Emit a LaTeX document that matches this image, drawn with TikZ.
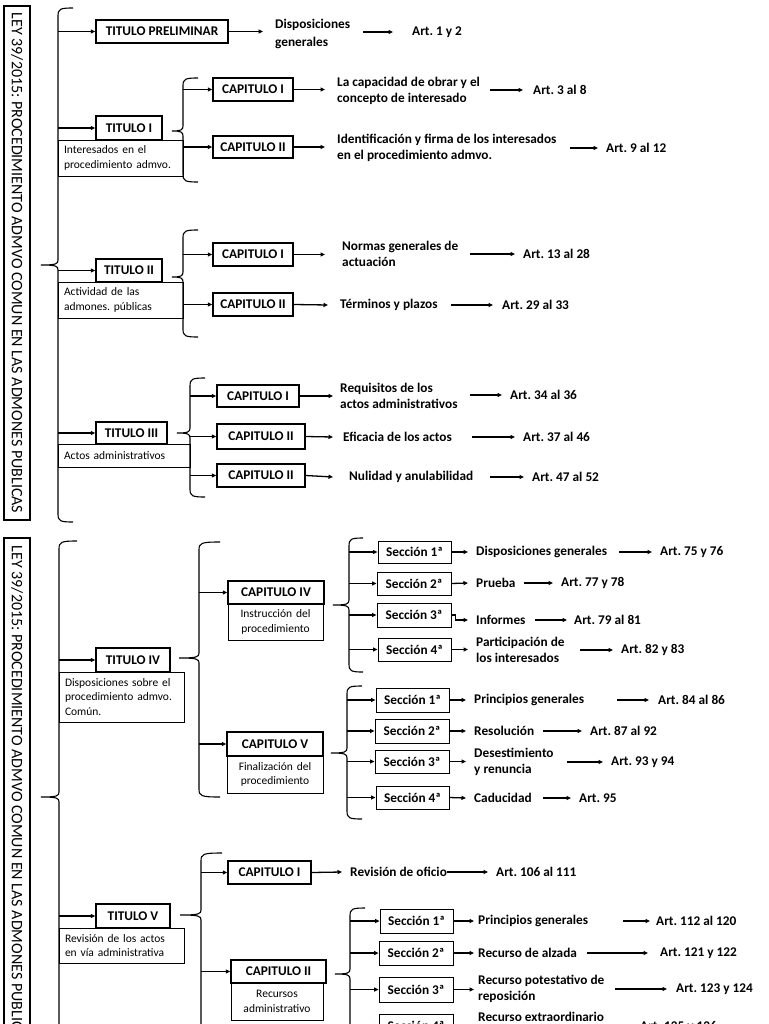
\documentclass[tikz,border=0pt]{standalone}
\usepackage{fontspec}
\setmainfont{Carlito}
\usetikzlibrary{arrows.meta}
\frenchspacing
\newcommand{\bx}[7]{%
  \pgfmathsetlengthmacro{\bxw}{(#5-#3)*1pt}%
  \pgfmathsetlengthmacro{\bxh}{(#6-#4)*1pt}%
  \node[#1, minimum width=\bxw, minimum height=\bxh] (#2) at ({(#3+#5)/2},{(#4+#6)/2}) {#7};}
\newcommand{\dbx}[7]{%
  \pgfmathsetlengthmacro{\bxw}{(#4-#2-12)*1pt}%
  \pgfmathsetlengthmacro{\bxh}{(#5-#3)*1pt}%
  \node[dbox, align=#6, text width=\bxw, minimum height=\bxh] (#1) at ({(#2+#4)/2},{(#3+#5)/2}) {#7};}
\newcommand{\brc}[6]{%
  \draw[brace] ({#1+#5},#2) .. controls ({#1+2},#2) and (#1,{#2+1}) .. (#1,{#2+8})
    -- (#1,{#3-5}) .. controls (#1,{#3-1}) and ({#1-2},#3) .. ({#1-#6},#3)
    .. controls ({#1-2},#3) and (#1,{#3+1}) .. (#1,{#3+5})
    -- (#1,{#4-8}) .. controls (#1,{#4-1}) and ({#1+2},#4) .. ({#1+#5},#4);}
\newcommand{\ar}[3]{\draw[arr] ([xshift=-#2pt]#1.west) -- ([xshift=-#3pt]#1.west);}
\begin{document}
\begin{tikzpicture}[x=1pt,y=-1pt,
  tbox/.style={draw, line width=1.5pt, inner sep=0pt, font=\fontsize{13.3}{16}\selectfont\bfseries},
  dbox/.style={draw, line width=0.6pt, inner xsep=6pt, inner ysep=0pt, font=\fontsize{11.5}{14.5}\selectfont},
  sbox/.style={draw, line width=0.8pt, inner sep=0pt, font=\fontsize{13.3}{16}\selectfont\bfseries},
  lbl/.style={anchor=west, align=left, inner sep=0pt, font=\fontsize{13.3}{16.5}\selectfont\bfseries},
  arr/.style={-{Triangle[length=4.5pt,width=4pt]}, line width=1.3pt},
  brace/.style={line width=1.1pt},
  lbox/.style={draw, line width=2pt, inner sep=0pt, font=\fontsize{16}{18}\selectfont}]
\useasboundingbox (0,0) rectangle (768,1024);
\fill[white] (0,0) rectangle (768,1024);
\clip (0,0) rectangle (768,1024);

% ===== Frame 1 =====
\node[lbox, rotate=-90, minimum width=514pt, minimum height=26pt] (L1) at (17,263) {LEY 39/2015: PROCEDIMIENTO ADMVO COMUN EN LAS ADMONES PUBLICAS};
\brc{58}{8}{265}{522}{15}{17}
\coordinate (B1) at (58,0);

% Titulo preliminar
\bx{tbox}{t0}{96}{20}{228}{43}{TITULO PRELIMINAR}
\draw[arr] (B1 |- t0.west) -- (t0.west);
\node[lbl, font=\fontsize{13.3}{18}\selectfont\bfseries] (l0) at (275,34) {Disposiciones\\generales};
\draw[arr] (t0.east) -- ([xshift=-12pt]l0.west |- t0.east);
\node[lbl] (a0) at (412,32) {Art. 1 y 2};
\ar{a0}{49}{19}

% Titulo I
\bx{tbox}{t1}{96}{116}{162}{140}{TITULO I}
\dbx{d1}{58}{140}{183}{176}{left}{Interesados en el\\procedimiento admvo.}
\draw[arr] (B1 |- t1.west) -- (t1.west);
\brc{183}{78}{131}{182}{15}{11}
\coordinate (C1) at (183,0);
\bx{tbox}{c11}{213}{78}{293}{101}{CAPITULO I}
\bx{tbox}{c12}{213}{136}{293}{158}{CAPITULO II}
\draw[arr] (C1 |- c11.west) -- (c11.west);
\draw[arr] (C1 |- c12.west) -- (c12.west);
\node[lbl] (l11) at (337,91) {La capacidad de obrar y el\\concepto de interesado};
\draw[arr] (c11.east) -- ([xshift=-12pt]l11.west |- c11.east);
\node[lbl] (a11) at (533,90) {Art. 3 al 8};
\ar{a11}{43}{10}
\node[lbl] (l12) at (337,148) {Identificación y firma de los interesados\\en el procedimiento admvo.};
\draw[arr] (c12.east) -- ([xshift=-12pt]l12.west |- c12.east);
\node[lbl] (a12) at (606,148) {Art. 9 al 12};
\ar{a12}{36}{8}

% Titulo II
\bx{tbox}{t2}{96}{259}{162}{282}{TITULO II}
\dbx{d2}{58}{282}{183}{318}{left}{Actividad de las\\admones. públicas}
\draw[arr] (B1 |- t2.west) -- (t2.west);
\brc{183}{230}{277}{337}{15}{11}
\coordinate (C2) at (183,0);
\bx{tbox}{c21}{213}{243}{293}{266}{CAPITULO I}
\bx{tbox}{c22}{213}{293}{293}{316}{CAPITULO II}
\draw[arr] (C2 |- c21.west) -- (c21.west);
\draw[arr] (C2 |- c22.west) -- (c22.west);
\node[lbl] (l21) at (342,254) {Normas generales de\\actuación};
\draw[arr] (c21.east) -- ([xshift=-17pt]l21.west |- c21.east);
\node[lbl] (a21) at (523,254) {Art. 13 al 28};
\ar{a21}{53}{8}
\node[lbl] (l22) at (340,305) {Términos y plazos};
\draw[arr] (c22.east) -- ([xshift=-12pt]l22.west);
\node[lbl] (a22) at (502,305) {Art. 29 al 33};
\ar{a22}{51}{9}

% Titulo III
\bx{tbox}{t3}{96}{422}{167}{444}{TITULO III}
\dbx{d3}{58}{444}{190}{467}{left}{Actos administrativos}
\draw[arr] (B1 |- t3.west) -- (t3.west);
\brc{190}{378}{433}{497}{15}{13}
\coordinate (C3) at (190,0);
\bx{tbox}{c31}{217}{385}{299}{407}{CAPITULO I}
\bx{tbox}{c32}{217}{424}{305}{449}{CAPITULO II}
\bx{tbox}{c33}{217}{464}{305}{487}{CAPITULO II}
\draw[arr] (C3 |- c31.west) -- (c31.west);
\draw[arr] (C3 |- c32.west) -- (c32.west);
\draw[arr] (C3 |- c33.west) -- (c33.west);
\node[lbl] (l31) at (340,396) {Requisitos de los\\actos administrativos};
\draw[arr] (c31.east) -- ([xshift=-7pt]l31.west |- c31.east);
\node[lbl] (a31) at (510,395) {Art. 34 al 36};
\ar{a31}{40}{8}
\node[lbl] (l32) at (343,437) {Eficacia de los actos};
\draw[arr] (c32.east) -- ([xshift=-10pt]l32.west);
\node[lbl] (a32) at (523,437) {Art. 37 al 46};
\ar{a32}{51}{8}
\node[lbl] (l33) at (349,477) {Nulidad y anulabilidad};
\draw[arr] (c33.east) -- ([xshift=-16pt]l33.west);
\node[lbl] (a33) at (532,477) {Art. 47 al 52};
\ar{a33}{42}{8}

% ===== Frame 2 =====
\node[lbox, rotate=-90, minimum width=517pt, minimum height=26pt] (L2) at (17,796) {LEY 39/2015: PROCEDIMIENTO ADMVO COMUN EN LAS ADMONES PUBLICAS};
\brc{59}{541}{797}{1090}{18}{18}
\coordinate (B2) at (59,0);

% Titulo IV
\bx{tbox}{t4}{96}{648}{170}{672}{TITULO IV}
\dbx{d4}{59}{672}{184}{722}{left}{Disposiciones sobre el\\procedimiento admvo.\\Común.}
\draw[arr] (B2 |- t4.west) -- (t4.west);
\brc{199}{542}{658}{797}{21}{20}
\coordinate (C4) at (199,0);
\bx{tbox}{c4}{228}{581}{324}{604}{CAPITULO IV}
\dbx{e4}{228}{604}{323}{640}{center}{Instrucción del\\procedimiento}
\bx{tbox}{c5}{227}{732}{323}{756}{CAPITULO V}
\dbx{e5}{227}{756}{323}{793}{center}{Finalización del\\procedimiento}
\draw[arr] (C4 |- c4.west) -- (c4.west);
\draw[arr] (C4 |- c5.west) -- (c5.west);

% Secciones cap IV
\brc{349}{538}{605}{672}{14}{16}
\coordinate (S4) at (349,0);
\bx{sbox}{s41}{378}{541}{451}{563}{Sección 1ª}
\bx{sbox}{s42}{377}{572}{451}{595}{Sección 2ª}
\bx{sbox}{s43}{377}{603}{451}{627}{Sección 3ª}
\bx{sbox}{s44}{378}{638}{451}{661}{Sección 4ª}
\foreach \s in {s41,s42,s43,s44} \draw[arr] (S4 |- \s.west) -- (\s.west);
\node[lbl] (l41) at (476,552) {Disposiciones generales};
\draw[arr] (s41.east) -- ([xshift=-8pt]l41.west);
\node[lbl] (a41) at (660,552) {Art. 75 y 76};
\ar{a41}{41}{8}
\node[lbl] (l42) at (476,583) {Prueba};
\draw[arr] (s42.east) -- ([xshift=-8pt]l42.west);
\node[lbl] (a42) at (561,583) {Art. 77 y 78};
\ar{a42}{37}{8}
\node[lbl] (l43) at (476,620) {Informes};
\draw[arr] (s43.east) -- ++(4,0) |- ([xshift=-8pt]l43.west);
\node[lbl] (a43) at (574,620) {Art. 79 al 81};
\ar{a43}{39}{7}
\node[lbl] (l44) at (476,650) {Participación de\\los interesados};
\draw[arr] (s44.east) -- ([xshift=-8pt]l44.west |- s44.east);
\node[lbl] (a44) at (621,650) {Art. 82 y 83};
\ar{a44}{41}{8}

% Secciones cap V
\brc{347}{686}{753}{819}{15}{16}
\coordinate (S5) at (347,0);
\bx{sbox}{s51}{376}{688}{449}{712}{Sección 1ª}
\bx{sbox}{s52}{375}{719}{449}{743}{Sección 2ª}
\bx{sbox}{s53}{375}{750}{449}{773}{Sección 3ª}
\bx{sbox}{s54}{376}{786}{449}{809}{Sección 4ª}
\foreach \s in {s51,s52,s53,s54} \draw[arr] (S5 |- \s.west) -- (\s.west);
\node[lbl] (l51) at (474,700) {Principios generales};
\draw[arr] (s51.east) -- ([xshift=-8pt]l51.west);
\node[lbl] (a51) at (658,700) {Art. 84 al 86};
\ar{a51}{41}{9}
\node[lbl] (l52) at (474,731) {Resolución};
\draw[arr] (s52.east) -- ([xshift=-8pt]l52.west);
\node[lbl] (a52) at (590,731) {Art. 87 al 92};
\ar{a52}{47}{8}
\node[lbl] (l53) at (474,762) {Desestimiento\\y renuncia};
\draw[arr] (s53.east) -- ([xshift=-8pt]l53.west |- s53.east);
\node[lbl] (a53) at (611,762) {Art. 93 y 94};
\ar{a53}{44}{8}
\node[lbl] (l54) at (474,798) {Caducidad};
\draw[arr] (s54.east) -- ([xshift=-8pt]l54.west);
\node[lbl] (a54) at (579,798) {Art. 95};
\ar{a54}{36}{8}

% Titulo V
\bx{tbox}{t5}{96}{904}{170}{928}{TITULO V}
\dbx{d5}{59}{928}{184}{963}{left}{Revisión de los actos\\en vía administrativa}
\draw[arr] (B2 |- t5.west) -- (t5.west);
\brc{201}{853}{915}{1100}{21}{21}
\coordinate (C5) at (201,0);
\bx{tbox}{v1}{228}{861}{311}{884}{CAPITULO I}
\bx{tbox}{v2}{231}{960}{326}{983}{CAPITULO II}
\dbx{ev2}{231}{983}{323}{1020}{center}{Recursos\\administrativo}
\draw[arr] (C5 |- v1.west) -- (v1.west);
\draw[arr] (C5 |- v2.west) -- (v2.west);
\node[lbl] (lv1) at (350,872) {Revisión de oficio};
\draw[arr] (v1.east) -- ([xshift=-8pt]lv1.west);
\node[lbl] (av1) at (496,872) {Art. 106 al 111};
\ar{av1}{49}{8}

% Secciones cap II (Titulo V)
\brc{350}{908}{974}{1100}{15}{15}
\coordinate (S6) at (350,0);
\bx{sbox}{s61}{380}{909}{453}{933}{Sección 1ª}
\bx{sbox}{s62}{379}{941}{453}{965}{Sección 2ª}
\bx{sbox}{s63}{379}{977}{453}{1002}{Sección 3ª}
\bx{sbox}{s64}{379}{1014}{453}{1038}{Sección 4ª}
\foreach \s in {s61,s62,s63,s64} \draw[arr] (S6 |- \s.west) -- (\s.west);
\node[lbl] (l61) at (478,921) {Principios generales};
\draw[arr] (s61.east) -- ([xshift=-4pt]l61.west);
\node[lbl] (a61) at (656,921) {Art. 112 al 120};
\ar{a61}{33}{6}
\node[lbl] (l62) at (478,953) {Recurso de alzada};
\draw[arr] (s62.east) -- ([xshift=-4pt]l62.west);
\node[lbl] (a62) at (660,953) {Art. 121 y 122};
\ar{a62}{73}{12}
\node[lbl] (l63) at (478,989) {Recurso potestativo de\\reposición};
\draw[arr] (s63.east) -- ([xshift=-4pt]l63.west |- s63.east);
\node[lbl] (a63) at (676,989) {Art. 123 y 124};
\ar{a63}{61}{9}
\node[lbl] (l64) at (478,1025) {Recurso extraordinario\\de revisión};
\draw[arr] (s64.east) -- ([xshift=-4pt]l64.west |- s64.east);
\node[lbl] (a64) at (640,1027) {Art. 125 y 126};
\ar{a64}{30}{8}
\end{tikzpicture}
\end{document}
